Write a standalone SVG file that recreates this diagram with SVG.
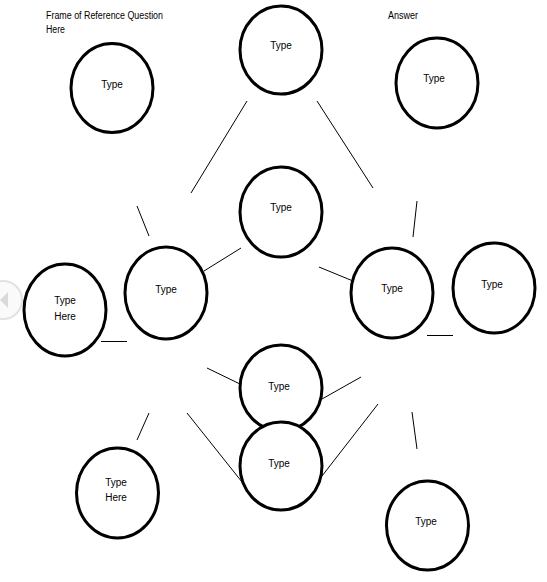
<svg xmlns="http://www.w3.org/2000/svg" width="547" height="582" viewBox="0 0 547 582">
<style>
.n{fill:#fff;stroke:#000;stroke-width:3}
.t{font-family:"Liberation Sans",Arial,sans-serif;font-size:10px;fill:#000;text-anchor:middle}
.h{font-family:"Liberation Sans",Arial,sans-serif;font-size:10px;fill:#000}
.c line{stroke:#000;stroke-width:1}
</style>
<rect width="547" height="582" fill="#fff"/>
<g id="nav-artifact">
<circle cx="3" cy="300" r="19" fill="#fafafa" stroke="#e2e2e2" stroke-width="2"/>
<polygon points="0,300 8,292 8,308" fill="#dadada"/>
</g>
<g id="titles">
<text class="h" x="46" y="19" textLength="117" lengthAdjust="spacingAndGlyphs">Frame of Reference Question</text>
<text class="h" x="46" y="33" textLength="19" lengthAdjust="spacingAndGlyphs">Here</text>
<text class="h" x="388" y="19" textLength="30" lengthAdjust="spacingAndGlyphs">Answer</text>
</g>
<g id="connectors" class="c">
<line x1="247" y1="101" x2="191" y2="193"/>
<line x1="317" y1="101" x2="373" y2="188"/>
<line x1="137" y1="206" x2="149" y2="236"/>
<line x1="417" y1="201" x2="413" y2="237"/>
<line x1="241" y1="248" x2="204" y2="271"/>
<line x1="319" y1="267" x2="353" y2="281"/>
<line x1="101" y1="341.5" x2="127" y2="341.5"/>
<line x1="427" y1="335.5" x2="453" y2="335.5"/>
<line x1="207" y1="368" x2="240" y2="384"/>
<line x1="361" y1="377" x2="322" y2="399"/>
<line x1="149" y1="413" x2="137" y2="440"/>
<line x1="187" y1="413" x2="242" y2="482"/>
<line x1="378" y1="404" x2="322" y2="476"/>
<line x1="412" y1="412" x2="417" y2="449"/>
</g>
<g id="n-topleft"><ellipse class="n" cx="112" cy="88" rx="41" ry="44.5"/><text class="t" x="112" y="88">Type</text></g>
<g id="n-top"><ellipse class="n" cx="281" cy="50" rx="41" ry="44"/><text class="t" x="281" y="49">Type</text></g>
<g id="n-topright"><ellipse class="n" cx="437" cy="83" rx="41" ry="45"/><text class="t" x="434" y="82">Type</text></g>
<g id="n-mid"><ellipse class="n" cx="281" cy="212" rx="41" ry="45"/><text class="t" x="281" y="211">Type</text></g>
<g id="n-leftfar"><ellipse class="n" cx="65" cy="310" rx="41" ry="46"/><text class="t" x="65" y="304">Type</text><text class="t" x="65" y="320">Here</text></g>
<g id="n-left"><ellipse class="n" cx="166" cy="293" rx="41" ry="46"/><text class="t" x="166" y="293">Type</text></g>
<g id="n-right"><ellipse class="n" cx="392" cy="293" rx="41" ry="45"/><text class="t" x="392" y="292">Type</text></g>
<g id="n-rightfar"><ellipse class="n" cx="494" cy="288" rx="41" ry="45"/><text class="t" x="492" y="288">Type</text></g>
<g id="n-low1"><ellipse class="n" cx="281" cy="388" rx="41" ry="43"/><text class="t" x="279" y="390">Type</text></g>
<g id="n-low2"><ellipse class="n" cx="281" cy="466" rx="41" ry="44"/><text class="t" x="279" y="467">Type</text></g>
<g id="n-bottomleft"><ellipse class="n" cx="117.5" cy="493" rx="41" ry="45"/><text class="t" x="116" y="486">Type</text><text class="t" x="116" y="501">Here</text></g>
<g id="n-bottomright"><ellipse class="n" cx="427.5" cy="525.5" rx="41" ry="44.5"/><text class="t" x="426" y="525">Type</text></g>
</svg>
